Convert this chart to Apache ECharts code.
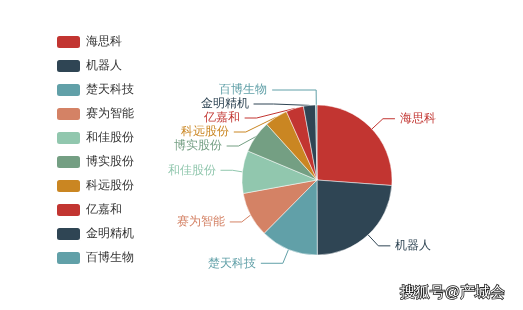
<!DOCTYPE html>
<html>
<head>
<meta charset="utf-8">
<script src="https://cdn.jsdelivr.net/npm/echarts@6/dist/echarts.min.js"></script>
<style>
  html, body { margin: 0; padding: 0; background: #fff; }
  #main { width: 523px; height: 310px; }
</style>
</head>
<body>
<div id="main"></div>
<script>
// 公司名称
var names = ['海思科', '机器人', '楚天科技', '赛为智能', '和佳股份', '博实股份', '科远股份', '亿嘉和', '金明精机', '百博生物'];
// 占比（%）
var values = [26.2, 23.8, 12.5, 9.7, 9.2, 7.0, 5.0, 3.8, 2.6, 0.3];

var colors = ['#c23531', '#2f4554', '#61a0a8', '#d48265', '#91c7ae', '#749f83', '#ca8622'];
// 个别标签的引导线长度
var lineLen2 = { '楚天科技': 22, '金明精机': 20, '百博生物': 44 };

var myChart = echarts.init(document.getElementById('main'));
var datas = [];
for (var i = 0; i < names.length; i++) {
    var d = { name: names[i], value: values[i] };
    if (lineLen2[names[i]]) {
        d.labelLine = { length2: lineLen2[names[i]] };
    }
    datas.push(d);
}
var option = {
    backgroundColor: '#fff',
    color: colors,
    animation: false,
    legend: {
        orient: 'vertical',
        left: 50,
        top: 29,
        itemWidth: 25,
        itemHeight: 14,
        itemGap: 8,
        icon: 'roundRect',
        textStyle: { fontSize: 12, color: '#333' },
        data: names
    },
    graphic: [{
        type: 'text',
        left: 399,
        top: 285,
        style: {
            text: '搜狐号@产城会',
            fontSize: 15,
            fill: '#fff',
            stroke: '#222',
            lineWidth: 1.6
        }
    }],
    series: [{
        type: 'pie',
        center: [317, 180],
        radius: [0, 75],
        startAngle: 90,
        clockwise: true,
        data: datas,
        itemStyle: { borderColor: '#fff', borderWidth: 0.5 },
        label: {
            show: true,
            color: 'inherit',
            fontSize: 12,
            lineHeight: 12
        },
        labelLine: {
            show: true,
            length: 15,
            length2: 12,
            smooth: false
        }
    }]
};
myChart.setOption(option);
</script>
</body>
</html>
